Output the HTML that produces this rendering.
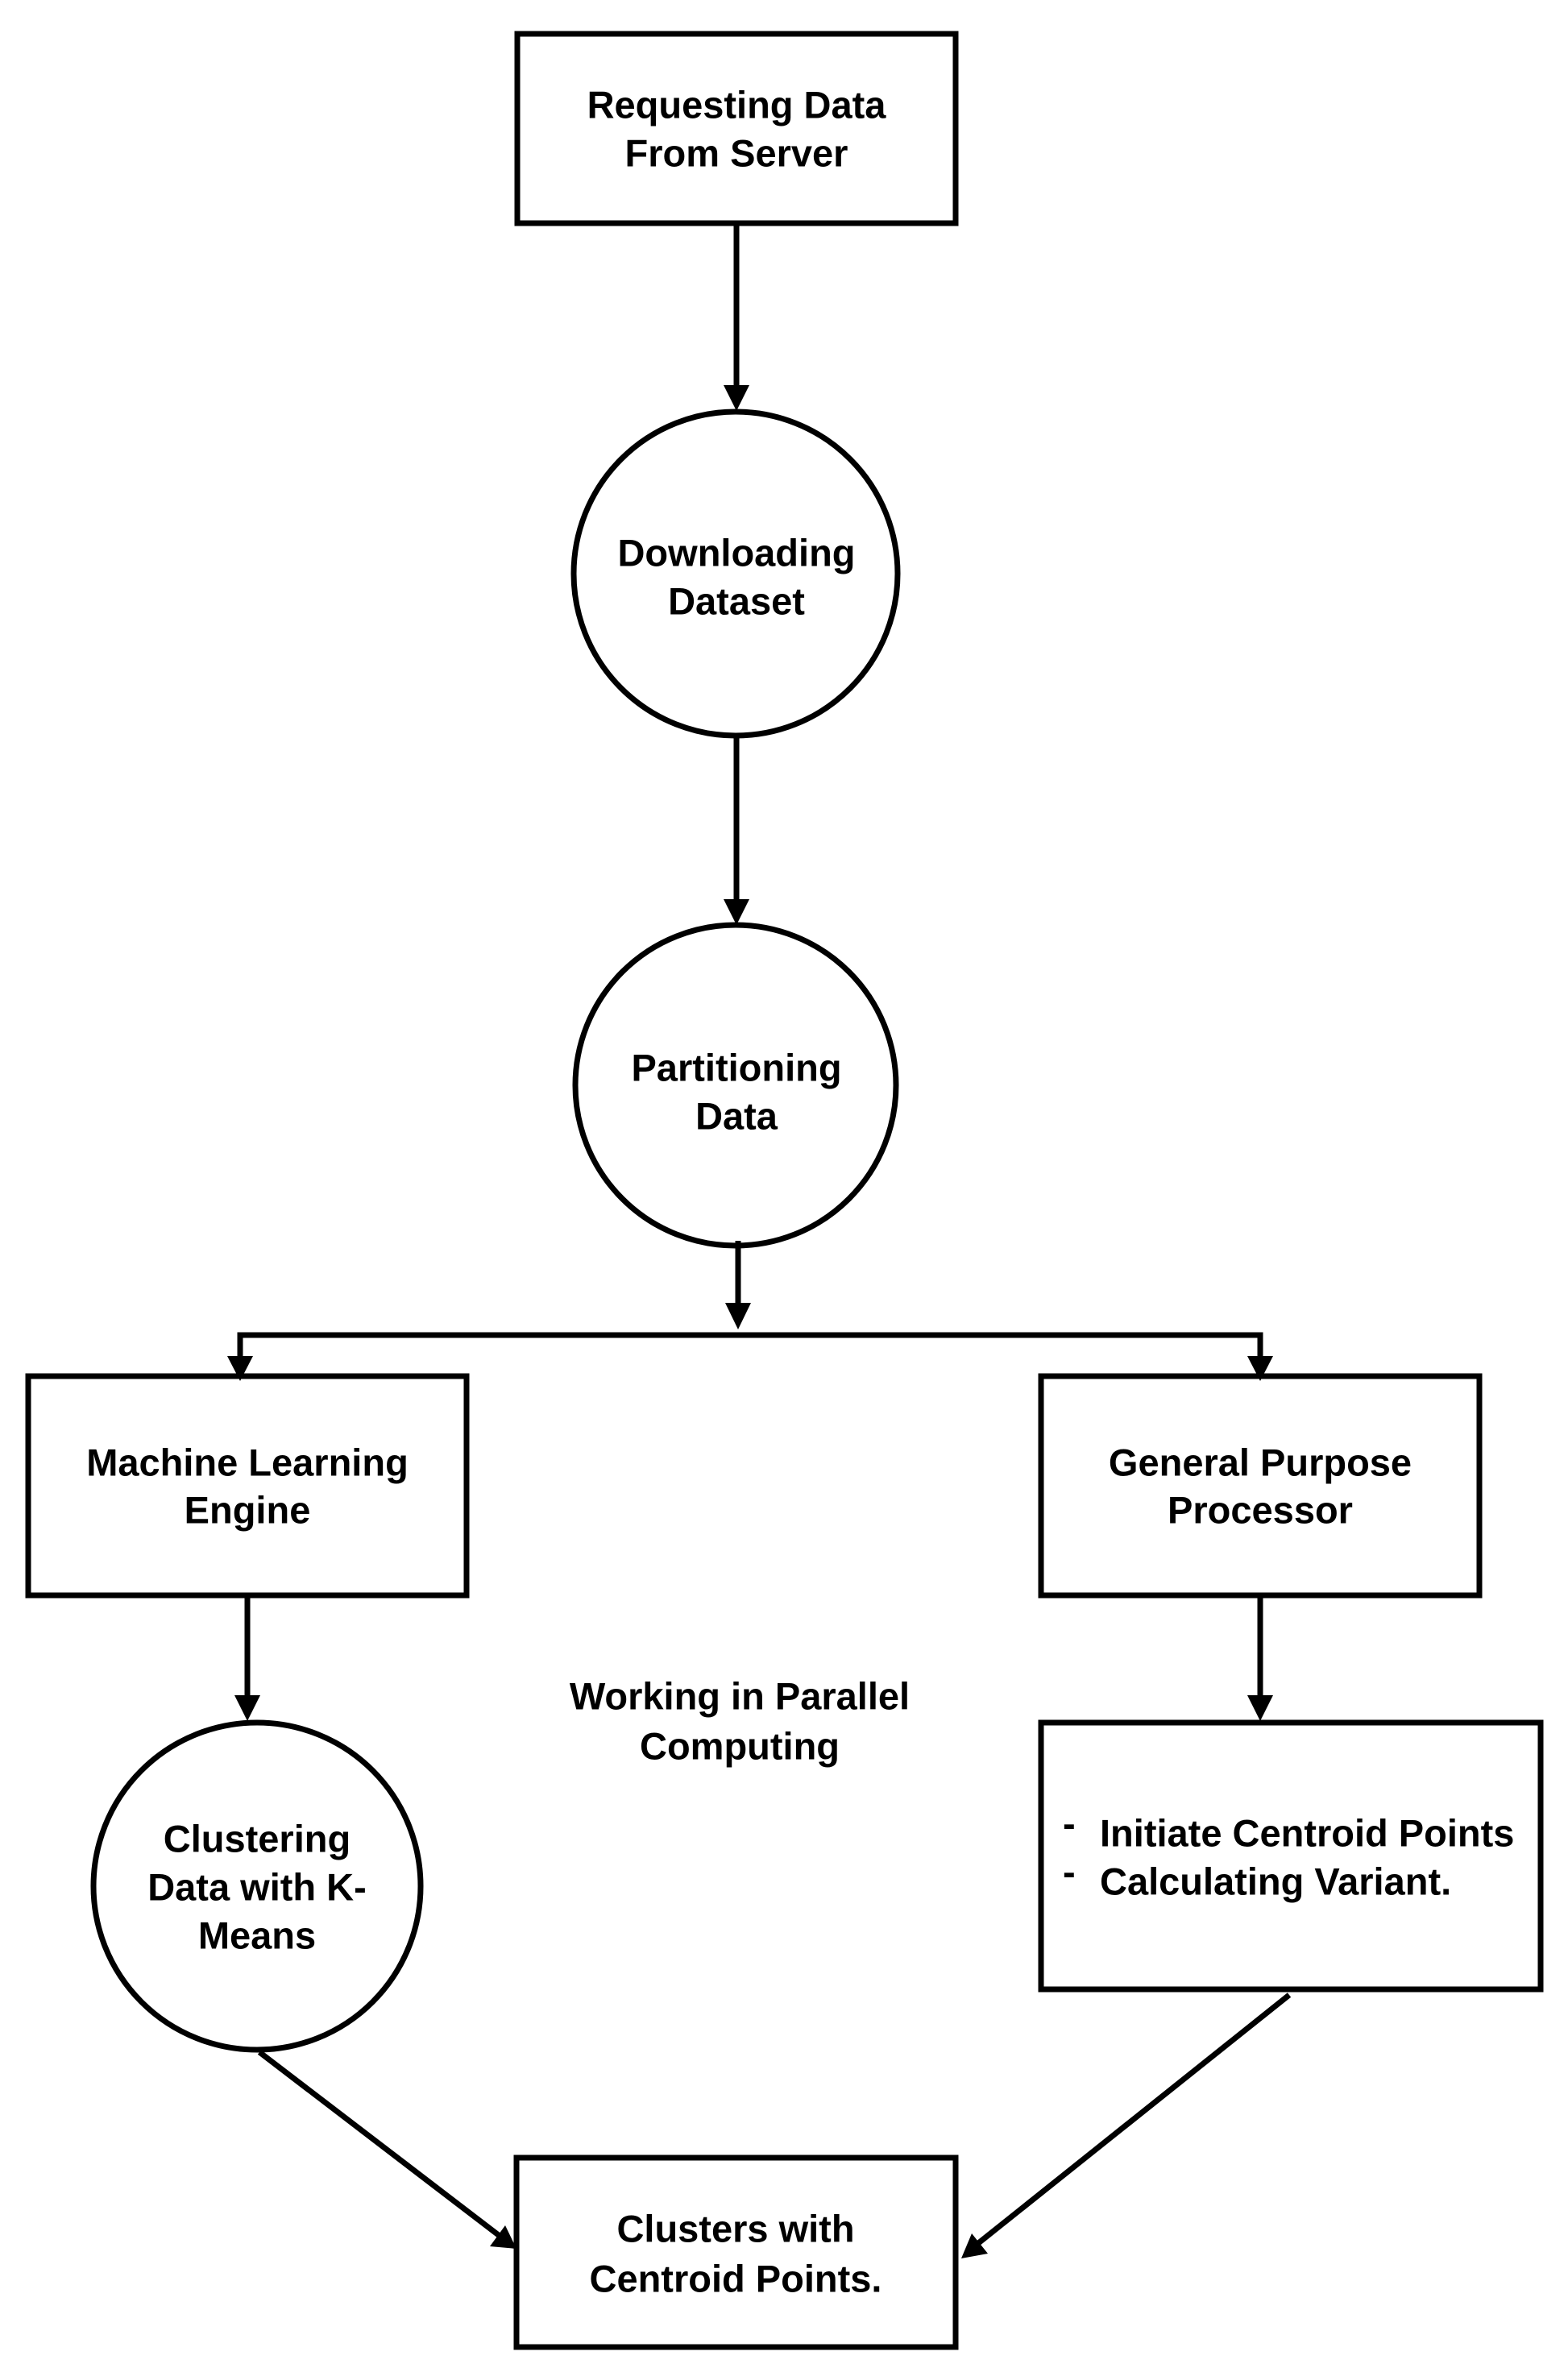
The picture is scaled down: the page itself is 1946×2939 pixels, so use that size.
<!DOCTYPE html>
<html><head><meta charset="utf-8"><style>
html,body{margin:0;padding:0;background:#fff;}
svg{display:block;}
text{font-family:"Liberation Sans",Arial,sans-serif;font-size:47px;font-weight:bold;fill:#000;}
</style></head><body>
<svg width="1946" height="2939" viewBox="0 0 1946 2939" xmlns="http://www.w3.org/2000/svg">
<g transform="translate(-5,0)">
<g fill="none" stroke="#000" stroke-width="7">
<rect x="647" y="42" width="544" height="235"/>
<circle cx="918" cy="712" r="201"/>
<circle cx="918" cy="1347" r="199"/>
<rect x="40" y="1708" width="544" height="272"/>
<rect x="1297" y="1708" width="544" height="272"/>
<circle cx="324" cy="2341" r="203"/>
<rect x="1297" y="2138" width="620" height="331"/>
<rect x="646" y="2678" width="545" height="235"/>
<line x1="919" y1="277" x2="919" y2="480"/>
<line x1="919" y1="913" x2="919" y2="1118"/>
<line x1="921" y1="1540" x2="921" y2="1620"/>
<polyline points="303,1690 303,1657 1569,1657 1569,1690"/>
<line x1="312" y1="1980" x2="312" y2="2108"/>
<line x1="1569" y1="1980" x2="1569" y2="2108"/>
<line x1="327" y1="2547" x2="625" y2="2775"/>
<line x1="1605" y1="2476" x2="1218" y2="2785"/>
</g>
<g fill="#000">
<polygon points="903,478 935,478 919,510"/>
<polygon points="903,1116 935,1116 919,1148"/>
<polygon points="905,1617 937,1617 921,1650"/>
<polygon points="287,1683 319,1683 303,1714"/>
<polygon points="1553,1683 1585,1683 1569,1714"/>
<polygon points="296,2104 328,2104 312,2136"/>
<polygon points="1553,2104 1585,2104 1569,2136"/>
<polygon points="646,2791 613,2788 632,2762"/>
<polygon points="1198,2803 1211,2772 1231,2797"/>
</g>
<g text-anchor="middle" dominant-baseline="central">
<text x="919" y="130">Requesting Data</text>
<text x="919" y="190">From Server</text>
<text x="919" y="686">Downloading</text>
<text x="919" y="746">Dataset</text>
<text x="919" y="1325">Partitioning</text>
<text x="919" y="1385">Data</text>
<text x="312" y="1815">Machine Learning</text>
<text x="312" y="1874">Engine</text>
<text x="1569" y="1815">General Purpose</text>
<text x="1569" y="1874">Processor</text>
<text x="923" y="2105">Working in Parallel</text>
<text x="923" y="2167">Computing</text>
<text x="324" y="2282">Clustering</text>
<text x="324" y="2342">Data with K-</text>
<text x="324" y="2402">Means</text>
<text x="918" y="2766">Clusters with</text>
<text x="918" y="2828">Centroid Points.</text>
</g>
<g dominant-baseline="central">
<text x="1324" y="2263">-</text>
<text x="1324" y="2323">-</text>
<text x="1370" y="2275">Initiate Centroid Points</text>
<text x="1370" y="2335">Calculating Variant.</text>
</g>
</g>
</svg>
</body></html>
